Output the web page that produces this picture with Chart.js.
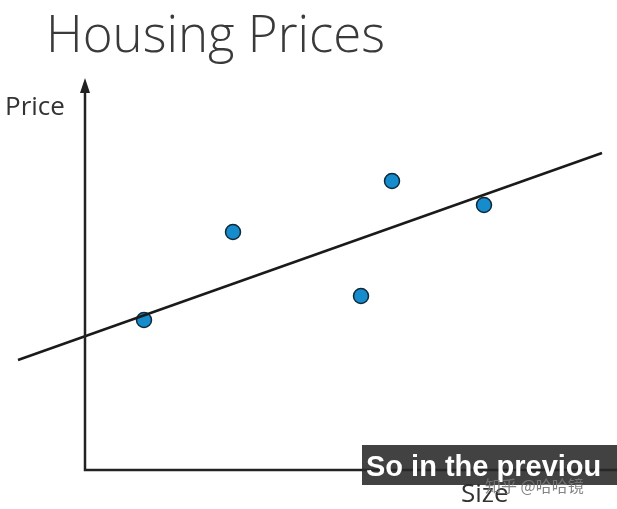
<!DOCTYPE html>
<html><head><meta charset="utf-8">
<script src="https://cdn.jsdelivr.net/npm/chart.js@4"></script>
<style>html,body{margin:0;padding:0;background:#fff;overflow:hidden}#w{width:617px;height:509px}</style>
</head><body><div id="w"><canvas id="c"></canvas></div>
<script>
// data in plot units (origin at axes corner, y up)
const sizes = [59, 148, 276, 307, 399];
const prices = [150, 238, 174, 289, 265];
const fitX = [-67, 517];
const fitY = [110, 317];
const axisX = [0, 532];
const axisY = [0, 385];

const pts = sizes.map((x,i)=>({x, y:prices[i]}));
const overlay = {
  id:'overlay',
  afterDatasetsDraw(ch){
    const c=ch.ctx, xs=ch.scales.x, ys=ch.scales.y;
    const ox=xs.getPixelForValue(0), top=ys.getPixelForValue(axisY[1]);
    c.save();
    c.fillStyle='#222';
    c.beginPath(); c.moveTo(ox,top-7); c.lineTo(ox-5,top+8); c.lineTo(ox+5,top+8); c.closePath(); c.fill();
    c.fillStyle='#3a3a3a';
    c.font='300 51px "Open Sans"'; c.textBaseline='alphabetic';
    c.fillText('Housing Prices',46,52);
    c.font='26px "Open Sans"'; c.fillStyle='#333';
    c.fillText('Price',5,115);
    c.fillText('Size',461,502);
    c.fillStyle='rgba(40,40,40,0.88)';
    c.fillRect(362,445,255,40);
    c.fillStyle='#fff'; c.font='bold 29px "Liberation Sans"';
    c.fillText('So in the previou',366,476);
    c.fillStyle='rgba(120,120,120,0.9)'; c.font='16px "Noto Sans CJK SC"';
    c.fillText('知乎 @哈哈镜',485,492);
    c.restore();
  }
};
new Chart(document.getElementById('c'),{
  type:'scatter',
  data:{datasets:[
    {type:'line',data:[{x:axisX[0],y:axisY[1]},{x:0,y:0},{x:axisX[1],y:0}],borderColor:'#222',borderWidth:2.5,pointRadius:0,fill:false,tension:0},
    {type:'line',data:[{x:fitX[0],y:fitY[0]},{x:fitX[1],y:fitY[1]}],borderColor:'#1a1a1a',borderWidth:2.5,pointRadius:0,fill:false},
    {data:pts,backgroundColor:'#168ccc',borderColor:'#0e2a3c',borderWidth:1.5,pointRadius:7.5}
  ]},
  options:{responsive:true,maintainAspectRatio:false,animation:false,
    layout:{padding:0,autoPadding:false},
    plugins:{legend:{display:false},tooltip:{enabled:false}},
    scales:{x:{type:'linear',display:false,min:-85,max:532},y:{type:'linear',display:false,min:-39,max:470}}
  },
  plugins:[overlay]
});
</script></body></html>
